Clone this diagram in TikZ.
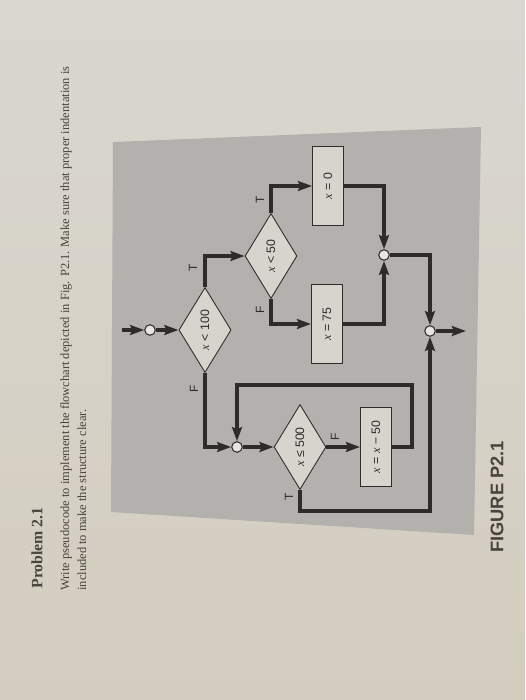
\documentclass[tikz,border=0pt]{standalone}
\usepackage{fontspec}
\setmainfont{Liberation Serif}
\setsansfont{Liberation Sans}
\usetikzlibrary{shapes.geometric,arrows.meta}
\definecolor{pagetop}{RGB}{217,215,208}
\definecolor{pagebot}{RGB}{212,205,191}
\definecolor{panel}{RGB}{179,177,173}
\definecolor{boxfill}{RGB}{214,212,205}
\definecolor{ink}{RGB}{45,44,42}
\definecolor{printink}{RGB}{72,68,62}
\newcommand\xv{{\rmfamily\itshape x}}

\begin{document}
\begin{tikzpicture}[x=0.02cm,y=-0.02cm,>={Stealth[length=8pt,width=5.6pt,inset=1.2pt]},
	flow/.style={line width=2pt,draw=ink,line join=miter},
	dec/.style={diamond,draw=ink,line width=0.5pt,fill=boxfill,minimum width=1.04cm,minimum height=1.7cm,inner sep=0.5pt,font=\sffamily\fontsize{7}{7}\selectfont,text=ink},
	blk/.style={rectangle,draw=ink,line width=0.5pt,fill=boxfill,minimum width=0.62cm,minimum height=1.58cm,inner sep=0pt,font=\sffamily\fontsize{7}{7}\selectfont,text=ink},
	jn/.style={circle,draw=ink,line width=0.6pt,fill=boxfill!60!white,minimum size=0.21cm,inner sep=0pt},
	lab/.style={rotate=90,font=\sffamily\fontsize{6.8}{6.8}\selectfont,text=ink,inner sep=0pt},
	txt/.style={rotate=90,anchor=west,text=printink,inner sep=0pt}]
	\useasboundingbox (0,0) rectangle (525,700);
	% page and grey panel
	\shade[top color=pagetop,bottom color=pagebot] (0,0) rectangle (525,700);
	\fill[panel] (113,142) -- (481,127) -- (474,535) -- (111,512) -- cycle;
	% problem text
	\node[txt,font=\bfseries\fontsize{9}{9}\selectfont] (ttl) at (37,589) {Problem 2.1};
	\node[txt,font=\fontsize{7.1}{7.1}\selectfont] (ln1) at (66,591) {Write pseudocode to implement the flowchart depicted in Fig. P2.1. Make sure that proper indentation is};
	\node[txt,font=\fontsize{7.1}{7.1}\selectfont] (ln2) at (82,591) {included to make the structure clear.};
	\node[txt,font=\sffamily\bfseries\fontsize{10.4}{10.4}\selectfont] (fig) at (497,553) {FIGURE P2.1};
	% flowchart
	\coordinate (in) at (122,330);
	\node[jn] (s0) at (150,330) {};
	\node[dec] (c100) at (205,330) {\rotatebox{90}{\xv{} < 100}};
	\node[dec] (c50) at (271,256) {\rotatebox{90}{\xv{} < 50}};
	\node[blk] (a0) at (328,186) {\rotatebox{90}{\xv{} = 0}};
	\node[blk] (a75) at (327,324) {\rotatebox{90}{\xv{} = 75}};
	\node[jn] (j1) at (384,255) {};
	\node[jn] (j2) at (430,331) {};
	\coordinate (out) at (466,331);
	\node[jn] (j3) at (237,447) {};
	\node[dec] (c500) at (300,447) {\rotatebox{90}{\xv{} ≤ 500}};
	\node[blk] (a50) at (376,447) {\rotatebox{90}{\xv{} = \xv{} − 50}};
	\coordinate (lp) at (412,385);
	\coordinate (lb) at (430,511);
	\draw[flow,->] (in) -- (s0);
	\draw[flow,->] (s0) -- (c100.west);
	\draw[flow,->] (c100.north) |- (c50.west);
	\draw[flow,->] (c50.north) |- (a0.west);
	\draw[flow,->] (c50.south) |- (a75.west);
	\draw[flow,->] (a0.east) -| (j1.north);
	\draw[flow,->] (a75.east) -| (j1.south);
	\draw[flow,->] (j1.east) -| (j2.north);
	\draw[flow,->] (j2.east) -- (out);
	\draw[flow,->] (c100.south) |- (j3.west);
	\draw[flow,->] (j3.east) -- (c500.west);
	\draw[flow,->] (c500.east) -- (a50.west);
	\draw[flow,->] (a50.east) -| (lp) -| (j3.north);
	\draw[flow,->] (c500.south) |- (lb) -- (j2.south);
	% branch labels
	\node[lab] (t100) at (193,268) {T};
	\node[lab] (f100) at (194,389) {F};
	\node[lab] (t50) at (260,200) {T};
	\node[lab] (f50) at (260,310) {F};
	\node[lab] (t500) at (289,497) {T};
	\node[lab] (f500) at (335,437) {F};
\end{tikzpicture}
\end{document}
